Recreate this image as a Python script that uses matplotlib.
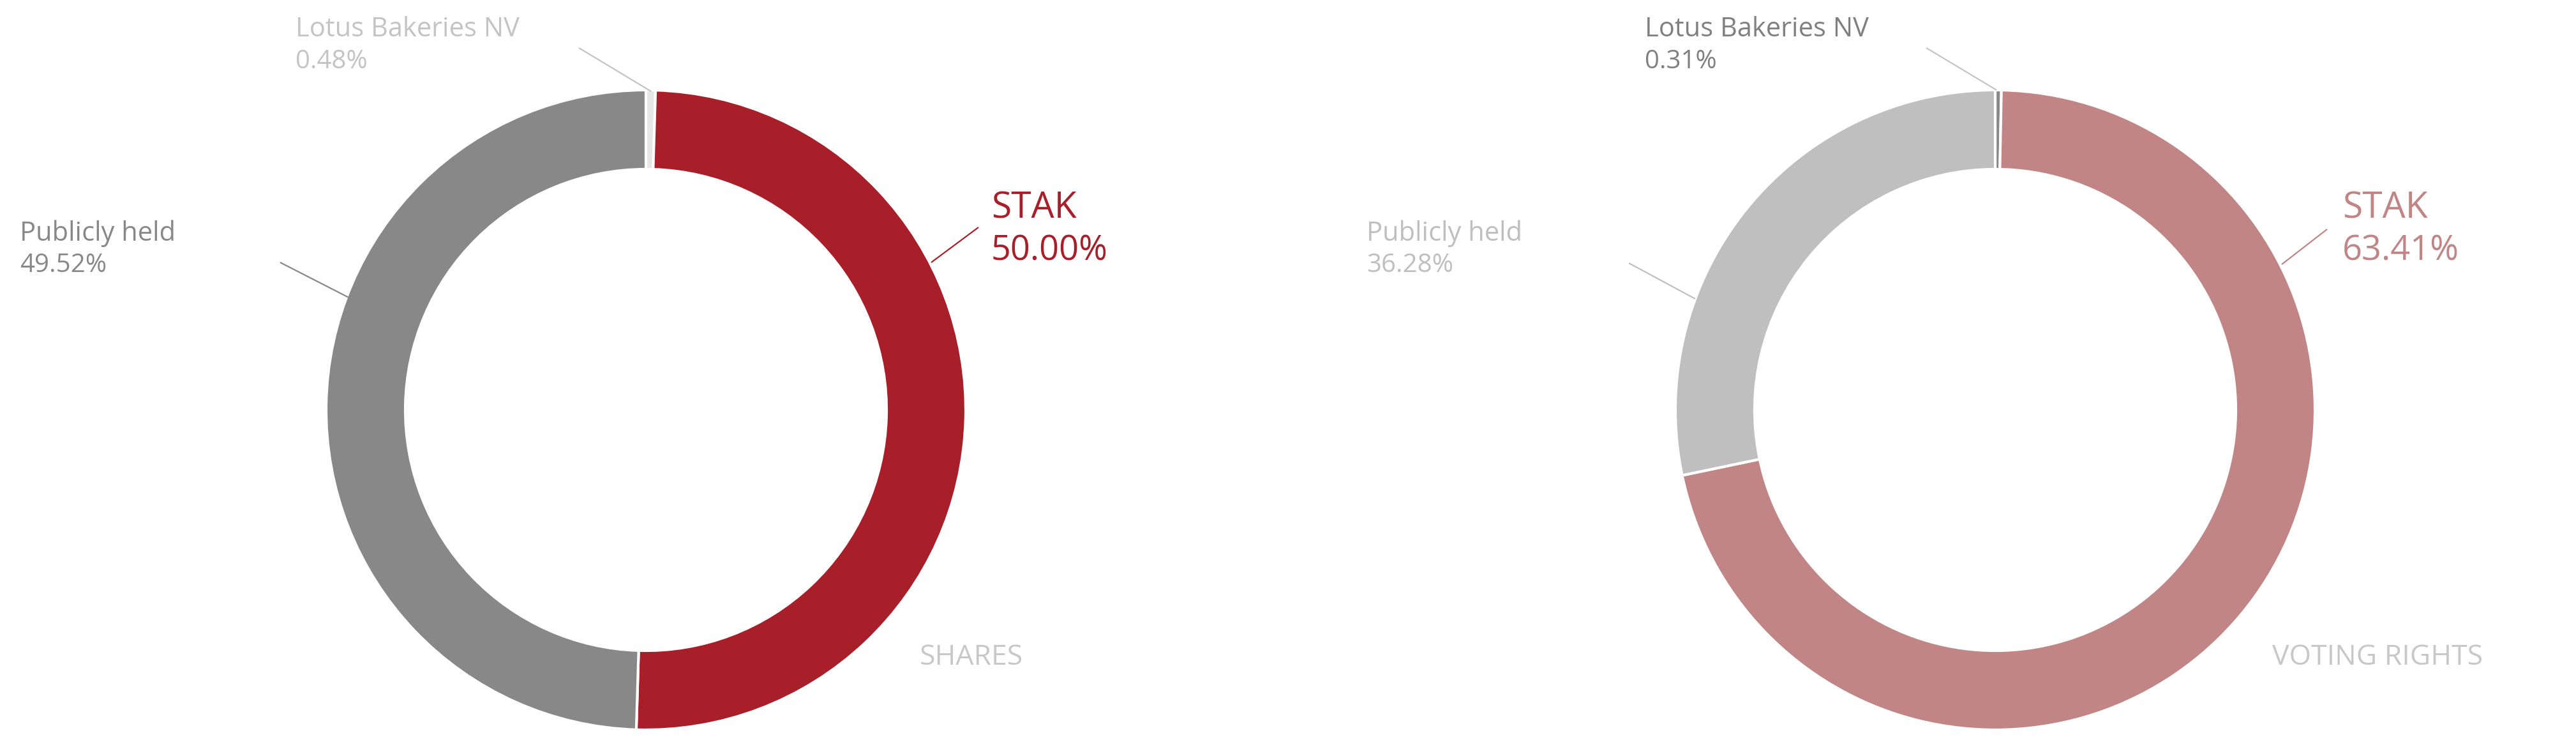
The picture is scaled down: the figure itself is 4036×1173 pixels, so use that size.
import matplotlib
matplotlib.use("Agg")
import matplotlib.pyplot as plt

# data
holders = ["Lotus Bakeries NV", "STAK", "Publicly held"]
share_pct = [0.48, 50.00, 49.52]
vote_pct = [0.31, 63.41, 36.28]
# ring sizes as drawn in the reference (the voting ring is not drawn to its labels)
share_sizes = [0.48, 50.00, 49.52]
vote_sizes = [0.31, 71.41, 28.28]
chart_titles = ["SHARES", "VOTING RIGHTS"]

share_colors = ["#e6e6e6", "#a81f2a", "#888888"]
share_text_colors = ["#c4c4c4", "#a81f2a", "#888888"]
vote_colors = ["#888888", "#c08584", "#bfbfbf"]
vote_text_colors = ["#808080", "#c08584", "#bfbfbf"]

W, H = 4036, 1173
plt.rcParams['font.family'] = ['Open Sans', 'DejaVu Sans']

fig = plt.figure(figsize=(W / 100, H / 100), dpi=100)
ax = fig.add_axes([0, 0, 1, 1])


def draw_donut(cx, sizes, pct, colors, text_colors, title, layout):
    cy = 642
    ax.pie(sizes, colors=colors, startangle=90, counterclock=False,
           center=(cx, H - cy), radius=501,
           wedgeprops=dict(width=124, edgecolor="white", linewidth=3))
    for i, name in enumerate(holders):
        tx, big, (x0, y0, x1, y1) = layout[i]
        fs1, fs2 = (41, 39) if big else (30, 29)
        b1, b2 = (342, 407) if big else ((57, 107) if i == 0 else (377, 426))
        ax.text(tx, H - b1, name, color=text_colors[i], fontsize=fs1, va="baseline")
        ax.text(tx, H - b2, f"{pct[i]:.2f}%", color=text_colors[i], fontsize=fs2,
                va="baseline")
        ax.plot([x0, x1], [H - y0, H - y1], color=text_colors[i] if i else "#c4c4c4",
                lw=1.6, solid_capstyle="butt")
    ax.text(layout[3][0], H - layout[3][1], title, color="#c8c8c8", fontsize=32,
            va="center")


draw_donut(1012, share_sizes, share_pct, share_colors, share_text_colors, chart_titles[0],
           [(463, False, (907, 75, 1020, 143)),
            (1553, True, (1533, 356, 1459, 411)),
            (31, False, (439, 411, 568, 477)),
            (1441, 1030)])
draw_donut(3126, vote_sizes, vote_pct, vote_colors, vote_text_colors, chart_titles[1],
           [(2577, False, (3018, 75, 3128, 141)),
            (3670, True, (3646, 359, 3575, 414)),
            (2141, False, (2552, 412, 2656, 468)),
            (3560, 1030)])

ax.set_xlim(0, W)
ax.set_ylim(0, H)
ax.set_aspect("auto")
ax.axis("off")

fig.savefig("out.png", dpi=100, facecolor="white")
